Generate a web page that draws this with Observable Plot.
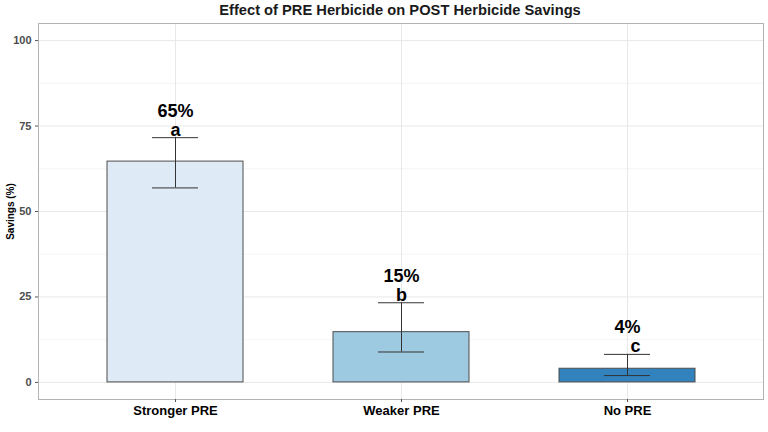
<!DOCTYPE html>
<html>
<head>
<meta charset="utf-8">
<script src="https://cdn.jsdelivr.net/npm/d3@7"></script>
<script src="https://cdn.jsdelivr.net/npm/@observablehq/plot@0.6"></script>
<style>
  html, body { margin: 0; padding: 0; background: #fff; }
  #title { width: 768px; height: 22px; box-sizing: border-box; padding-left: 32px; text-align: center;
    font: bold 14.7px "Liberation Sans", Arial, sans-serif; line-height: 21px; color: #1a1a1a; }
  svg { display: block; }
</style>
</head>
<body>
<div id="title">Effect of PRE Herbicide on POST Herbicide Savings</div>
<div id="chart"></div>
<script>
const categories = ["Stronger PRE", "Weaker PRE", "No PRE"];
const means = [64.6, 14.7, 4.0];
const upper = [71.6, 23.3, 8.2];
const lower = [56.9, 8.9, 2.0];
const pctLabels = ["65%", "15%", "4%"];
const letters = ["a", "b", "c"];
const colors = ["#deebf7", "#9ecae1", "#3182bd"];
const majorTicks = [0, 25, 50, 75, 100];
const minorTicks = [12.5, 37.5, 62.5, 87.5];

const data = categories.map((c, i) => ({cat: c, mean: means[i], up: upper[i], lo: lower[i], pct: pctLabels[i], letter: letters[i]}));
const font = '"Liberation Sans", Arial, sans-serif';
const letterStyle = {x: "cat", y: "up", text: "letter", lineAnchor: "bottom", dy: -2, fontSize: 18, fontWeight: "bold", fill: "#000"};

const chart = Plot.plot({
  width: 768,
  height: 410,
  marginTop: 1,
  marginBottom: 33,
  marginLeft: 38,
  marginRight: 5,
  style: {fontFamily: font, background: "#fff"},
  x: {domain: categories, paddingInner: 0.4, paddingOuter: 0.3, label: null},
  y: {domain: [-5, 105], label: null},
  color: {domain: categories, range: colors},
  marks: [
    Plot.ruleY(minorTicks, {stroke: "#f4f4f4", strokeWidth: 1}),
    Plot.ruleY(majorTicks, {stroke: "#e8e8e8", strokeWidth: 1}),
    Plot.ruleX(categories, {x: d => d, stroke: "#e8e8e8", strokeWidth: 1}),
    Plot.barY(data, {x: "cat", y: "mean", fill: "cat", stroke: "#4d4d4d", strokeWidth: 1}),
    Plot.ruleX(data, {x: "cat", y1: "lo", y2: "up", stroke: "#333", strokeWidth: 1}),
    Plot.tickY(data, {x: "cat", y: "up", stroke: "#333", strokeWidth: 1, insetLeft: 45, insetRight: 45}),
    Plot.tickY(data, {x: "cat", y: "lo", stroke: "#333", strokeWidth: 1, insetLeft: 45, insetRight: 45}),
    Plot.text(data, {...letterStyle, filter: d => d.letter !== "c"}),
    Plot.text(data, {...letterStyle, filter: d => d.letter === "c", dx: 8}),
    Plot.text(data, {x: "cat", y: "up", text: "pct", lineAnchor: "bottom", dy: -21, fontSize: 18, fontWeight: "bold", fill: "#000"}),
    Plot.frame({stroke: "#b3b3b3", strokeWidth: 1}),
    Plot.axisY(majorTicks, {tickSize: 3, tickPadding: 4, fontSize: 11, fontWeight: "bold", fill: "#4d4d4d", stroke: "#555", label: null}),
    Plot.axisX({tickSize: 3, tickPadding: 3, fontSize: 13, fontWeight: "bold", fill: "#000", stroke: "#555", label: null}),
    Plot.text(["Savings (%)"], {frameAnchor: "left", dx: -28, rotate: -90, fontSize: 10, fontWeight: "bold", fill: "#000", textAnchor: "middle"})
  ]
});
document.getElementById("chart").appendChild(chart);
</script>
</body>
</html>
